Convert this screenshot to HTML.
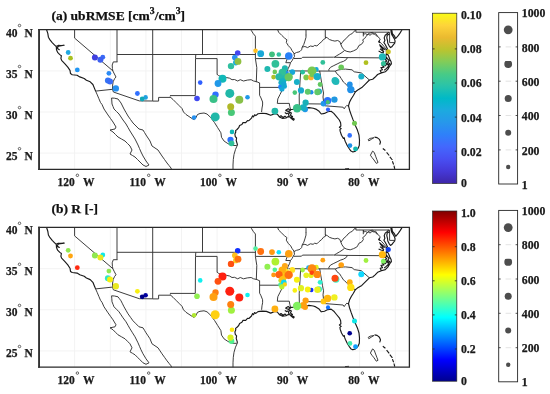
<!DOCTYPE html>
<html><head><meta charset="utf-8"><title>Figure</title>
<style>
html,body{margin:0;padding:0;background:#fff;}
svg{display:block}
.t{font-family:"Liberation Serif",serif;font-weight:bold;font-size:11.5px;fill:#1a1a1a;stroke:#1a1a1a;stroke-width:0.25px}
.dg{font-family:"Liberation Serif",serif;font-size:7px;font-weight:normal;fill:#1a1a1a}
.t2{font-size:11.8px}
.rg{fill:none;stroke:#1a1a1a;stroke-width:0.65}
.ti{font-family:"Liberation Serif",serif;font-weight:bold;font-size:13.5px;fill:#111;stroke:#111;stroke-width:0.25px}
.su{font-size:9.8px}
</style></head><body>
<svg width="550" height="394" viewBox="0 0 550 394">
<defs>
<linearGradient id="grad0" x1="0" y1="1" x2="0" y2="0"><stop offset="0.0000" stop-color="#3e26a8"/><stop offset="0.0714" stop-color="#4538d7"/><stop offset="0.1429" stop-color="#484ff2"/><stop offset="0.2143" stop-color="#4367fd"/><stop offset="0.2857" stop-color="#2f80fa"/><stop offset="0.3571" stop-color="#2797eb"/><stop offset="0.4286" stop-color="#1caadf"/><stop offset="0.5000" stop-color="#00b9c7"/><stop offset="0.5714" stop-color="#29c3aa"/><stop offset="0.6429" stop-color="#48cb86"/><stop offset="0.7143" stop-color="#81cc59"/><stop offset="0.7857" stop-color="#bbc42f"/><stop offset="0.8571" stop-color="#eaba30"/><stop offset="0.9286" stop-color="#fed43a"/><stop offset="1.0000" stop-color="#f9fb15"/></linearGradient>
<linearGradient id="grad1" x1="0" y1="1" x2="0" y2="0"><stop offset="0.0000" stop-color="#00008f"/><stop offset="0.1250" stop-color="#0000ff"/><stop offset="0.3750" stop-color="#00ffff"/><stop offset="0.6250" stop-color="#ffff00"/><stop offset="0.8750" stop-color="#ff0000"/><stop offset="1.0000" stop-color="#800000"/></linearGradient>
</defs>
<rect width="550" height="394" fill="#fff"/>
<text x="51.5" y="19.8" class="ti">(a) ubRMSE [cm<tspan class="su" dy="-5.6">3</tspan><tspan dy="5.6">/cm</tspan><tspan class="su" dy="-5.6">3</tspan><tspan dy="5.6">]</tspan></text>
<text x="51.5" y="213" class="ti">(b) R [-]</text>
<g transform="translate(0,0.0)">
<clipPath id="clip0"><rect x="38.5" y="29.8" width="371.0" height="139.7"/></clipPath>
<path d="M74.6 29.8 V169.5 M110.3 29.8 V169.5 M145.9 29.8 V169.5 M181.5 29.8 V169.5 M217.1 29.8 V169.5 M252.8 29.8 V169.5 M288.4 29.8 V169.5 M324.0 29.8 V169.5 M359.6 29.8 V169.5 M395.3 29.8 V169.5 M38.5 153.1 H409.5 M38.5 112.0 H409.5 M38.5 70.9 H409.5" stroke="#f2f2f2" stroke-width="0.9" fill="none"/>
<g clip-path="url(#clip0)">
<path d="M74.6 28.2 L74.6 38.1 L112.9 70.9 M117.0 28.2 L117.0 61.9 M117.0 54.5 L255.5 54.5 M152.7 28.2 L152.7 101.1 M152.7 101.1 L158.6 101.1 L158.6 97.4 L170.6 97.4 M170.0 95.6 L195.3 95.6 L195.5 58.6 L195.8 54.5 M195.8 58.6 L217.1 58.6 L217.1 74.5 M202.5 28.2 L202.5 54.5 M259.6 82.8 L259.6 95.6 M259.6 87.4 L280.1 87.4 M255.5 58.6 L287.3 58.6 L285.8 62.7 L290.5 62.7 M306.0 28.2 L306.0 35.2 M325.3 28.2 L325.3 37.3 M355.9 28.2 L355.9 32.2 L389.6 32.2 L389.6 42.6 L394.9 42.6 M363.3 32.2 L363.3 36.4 M117.5 61.9 L113.3 61.9 L112.2 65.0 L112.4 68.5 L112.9 71.0 L114.4 74.0 L116.0 77.0 L114.7 78.5 L113.1 81.8 L112.5 86.2 L112.5 89.3 M95.6 91.1 L112.5 89.3 L113.4 92.0 L139.3 100.9 L152.6 101.0 M169.8 96.6 L173.0 99.5 L176.0 102.5 L179.0 105.5 L182.0 108.5 L183.5 112.0 L186.0 114.5 L189.0 116.5 L192.0 118.5 L194.2 119.6 L196.0 117.5 L197.5 114.5 L200.0 113.5 L204.0 113.0 L207.0 114.0 L210.7 117.5 L214.5 122.6 L217.7 127.7 L220.9 132.8 L221.5 137.3 L224.1 141.1 L227.9 143.6 L231.7 145.5 L236.2 145.5 L237.5 144.9 M217.1 74.3 L218.6 75.6 L221.8 76.9 L226.3 77.5 L229.5 78.2 L232.0 79.7 L234.5 79.5 L237.7 81.0 L240.3 79.7 L243.5 81.0 L247.3 80.1 L251.1 79.7 L253.6 81.0 L256.3 81.6 L258.0 82.2 L259.8 83.3 M250.6 29.5 L251.3 30.5 L253.2 33.5 L255.4 36.2 L255.4 58.6 L256.8 67.7 L256.3 82.2 M259.8 95.6 L261.0 98.0 L262.6 102.0 L262.6 105.0 L262.0 108.0 L261.6 112.0 M277.4 29.0 L278.6 32.2 L281.8 35.4 L284.4 37.9 L286.9 39.8 L286.3 42.4 L288.2 45.5 L290.7 48.1 L292.0 50.6 L293.9 53.2 L294.5 56.4 L293.3 58.3 L292.0 60.8 L290.5 62.7 L289.5 65.9 L288.2 68.5 L286.9 71.6 L285.5 75.0 L283.5 79.0 L282.0 83.0 L281.5 87.0 L282.2 90.2 L280.0 94.5 L277.8 98.9 L277.3 103.4 L289.3 103.4 L289.8 106.5 L290.6 109.8 M293.9 53.8 L296.5 52.5 L299.0 51.9 L300.0 51.4 L301.6 49.8 L302.2 47.1 L304.9 46.5 L307.6 47.6 L310.4 46.0 L313.1 46.5 L314.7 45.4 L316.9 46.0 L319.1 43.8 L321.8 41.6 L323.4 39.5 L325.5 38.4 L325.5 37.0 L327.3 37.8 L329.4 39.5 L332.2 40.5 L334.9 41.1 L337.6 40.5 L339.8 41.6 L340.9 44.4 L342.5 42.2 L344.2 40.0 L346.3 38.4 L348.0 36.2 L350.2 34.5 L352.3 33.5 L354.0 31.3 L355.4 30.5 L355.9 29.0 M306.0 34.8 L306.0 37.3 L304.9 41.1 L303.8 44.4 L302.2 47.1 M293.6 58.5 L301.5 58.4 L302.5 57.3 L333.5 57.2 L345.0 57.6 L385.0 57.9 M288.5 70.9 L335.3 71.1 M335.3 71.1 L338.0 70.0 L343.4 69.2 L345.5 69.1 L352.0 69.8 L354.2 71.8 L361.3 72.9 L364.0 75.3 L369.4 80.0 M301.2 70.9 L300.6 72.0 L299.2 96.0 L299.4 110.0 M319.7 70.9 L322.5 88.0 L323.5 93.0 L323.0 97.0 L323.5 101.0 L324.2 103.8 M305.5 103.8 L305.8 107.0 L306.5 110.0 M305.5 103.8 L322.9 104.0 L325.1 105.8 L343.1 107.2 L344.2 108.8 L345.8 106.4 L346.9 105.3 L348.5 106.4 M335.3 71.1 L336.9 73.8 L339.6 76.0 L341.3 78.7 L343.4 82.0 L344.4 82.7 L347.6 86.0 L350.9 89.3 L355.3 92.0 M347.4 57.7 L346.3 59.6 L343.6 61.3 L340.3 62.4 L337.1 64.0 L333.8 65.6 L330.5 67.3 L328.9 69.4 L328.9 70.9 M334.4 57.2 L336.5 55.8 L339.3 54.2 L342.0 52.5 L344.7 50.4 L343.6 49.3 L342.0 47.1 L340.9 44.4 M344.7 50.4 L346.9 51.4 L350.2 52.0 L353.4 50.9 L356.7 49.3 L357.6 48.1 L358.9 45.5 L361.5 44.3 L363.4 41.7 L362.7 39.8 L364.6 38.5 L366.0 36.6 L368.0 33.8 L370.0 35.3 L372.0 33.6 L374.0 34.2 L375.5 33.3 L377.7 36.5 M363.3 32.2 L363.6 34.2 L365.5 33.7 L367.5 34.7 L369.6 33.2 L372.2 32.3 L374.3 33.7 L376.3 35.8 L377.7 36.5 L380.3 39.0 L378.9 41.3 L381.7 43.7 L384.1 46.5 L386.0 49.0 L387.0 50.5 M368.2 139.6 L370.1 138.4 L373.9 137.7 L371.4 139.3 L368.8 140.9 L368.2 139.6 M372.6 151.1 L374.2 152.4 L375.6 156.2 L376.8 159.4 L378.0 162.5 L376.3 163.4 L374.0 160.0 L372.0 157.5 L370.4 155.2 L372.6 151.1 M345.0 168.8 L349.0 168.5 M95.6 91.1 L97.3 94.9 L98.9 98.7 L100.5 102.5 L102.0 104.5 L104.0 109.0 L106.0 112.0 L108.0 115.0 L110.5 118.5 L113.0 122.0 L116.0 127.0 L115.0 129.0 L110.0 130.0 L113.0 132.0 L115.5 134.5 L118.0 137.0 L121.5 139.0 L125.0 141.0 L127.5 143.5 L130.0 146.0 L132.0 150.0 L130.0 154.0 L132.5 155.5 L135.0 157.0 L137.5 159.5 L140.0 162.0 L143.0 165.0 L146.0 166.5 L149.0 165.0 M111.6 98.0 L111.8 101.0 L112.0 104.0 L113.0 106.5 L114.0 109.0 L116.5 111.5 L119.0 114.0 L121.0 117.0 L123.0 120.0 L126.0 124.0 L128.0 127.5 L130.0 131.0 L132.5 135.0 L135.0 139.0 L138.0 145.0 L139.5 148.5 L141.0 152.0 L143.0 156.0 L146.0 161.0 L149.0 165.0 M111.6 98.0 L114.5 98.2 L118.0 99.0 L119.5 101.0 L121.0 103.0 L122.5 106.0 L124.0 109.0 L126.0 112.5 L128.0 116.0 L130.5 119.5 L133.0 123.0 L136.0 126.0 L139.0 129.0 L143.0 130.0 L144.5 132.5 L146.0 135.0 L148.0 138.0 L150.0 141.0 L152.0 146.0 L155.0 148.0 L158.0 150.0 L160.0 153.0 L162.0 156.0 L164.5 159.5 L167.0 163.0 L169.0 165.5 L171.0 168.0 L172.0 170.8 M233.0 171.0 L233.0 165.0 L233.3 159.5 L234.0 154.5 L235.5 149.4 L237.5 144.9" stroke="#333" stroke-width="0.95" fill="none" stroke-linejoin="round"/>
<path d="M46.5 29.5 L47.8 33.4 L48.4 37.2 L50.0 39.9 L52.2 42.6 L54.4 44.8 L56.0 46.4 L58.2 45.4 L61.0 45.6 L64.2 45.3 L58.5 46.2 L57.1 48.1 L59.3 49.7 L57.3 48.6 L56.3 47.0 L56.5 49.7 L57.6 52.4 L59.8 54.6 L61.4 55.7 L60.9 58.4 L61.6 60.3 L64.5 63.3 L67.8 67.1 L70.0 70.4 L70.5 73.6 L72.2 74.7 L77.1 75.3 L79.8 76.9 L84.2 78.5 L86.4 80.2 L90.2 81.8 L92.9 84.5 L94.5 88.4 L95.6 91.1 M237.5 144.9 L236.2 140.5 L236.6 138.0 L235.3 136.6 L234.9 134.1 L235.8 132.0 L235.6 130.6 L237.0 129.5 L238.7 127.7 L239.6 125.6 L241.9 124.5 L243.0 122.6 L245.7 122.6 L247.5 120.6 L248.9 120.7 L251.5 118.2 L252.6 115.8 L253.6 116.8 L254.6 114.8 L255.8 115.6 L258.0 113.8 L262.0 113.3 L266.4 113.6 L270.7 115.3 L274.9 113.6 L277.3 114.2 L279.4 116.9 L282.7 118.5 L286.0 118.0 L288.2 116.6 L290.9 117.2 L294.2 119.1 L293.6 120.2 L291.4 118.5 L289.3 116.6 L288.5 114.5 L289.8 112.5 L288.0 111.4 M285.4 110.4 L288.2 108.7 L290.4 110.4 L288.2 111.4 L285.4 110.4 M289.8 109.8 L293.6 109.3 L296.9 108.7 L300.0 108.9 L304.0 108.6 L308.9 107.6 L313.3 108.2 L315.8 109.1 L319.1 111.3 L321.3 114.0 L324.5 113.4 L327.8 111.8 L331.1 111.3 L333.8 113.4 L336.5 116.7 L339.3 120.0 L340.6 122.7 L340.9 126.0 L339.4 127.2 L341.2 128.6 L339.9 129.6 L340.2 131.4 L341.5 135.2 L343.4 138.4 L344.3 137.8 L344.6 139.6 L345.3 141.5 L347.2 145.4 L349.1 148.5 L351.0 151.1 L352.9 152.0 L355.5 151.1 L358.0 148.5 L359.3 145.4 L359.5 140.3 L359.0 135.2 L357.4 130.1 L355.1 124.9 L352.9 119.4 L351.3 115.1 L349.6 110.2 L348.5 105.8 L349.6 102.0 L351.3 98.7 L353.4 95.5 L355.3 92.0 L357.4 90.3 L361.8 87.6 L365.6 83.8 L369.4 80.0 L372.7 79.2 L374.9 77.3 L377.6 74.5 L381.4 72.9 L385.3 71.8 L388.0 69.1 L389.8 65.8 L391.4 63.8 L391.1 61.8 L389.8 59.2 L388.5 55.9 L386.5 52.6 M381.4 72.9 L380.2 70.5 L382.5 69.8 L381.0 67.6 L384.0 67.2 L382.2 65.5 L385.6 65.8 L386.8 63.2 L384.5 62.4 L386.8 61.0 L385.0 59.3 L387.2 58.4 L385.8 56.5 L386.5 52.6 M386.8 63.2 L388.6 64.6 L388.0 67.0 L386.2 68.6 L384.2 70.2 M383.0 59.8 L385.0 59.3 M385.8 57.2 L389.1 60.5 L387.8 62.4 L389.8 63.8 L388.5 65.1 L386.5 63.8 M388.5 32.0 L387.8 33.3 L385.2 35.3 L384.2 37.9 L384.9 40.5 L383.9 42.5 L385.5 45.0 L386.5 47.0 L387.5 49.0 L386.2 49.8 L386.5 52.6 M379.3 44.5 L382.0 47.0 L385.2 49.8 M378.6 51.1 L381.0 52.2 L383.9 53.0 M379.9 45.7 L383.5 50.3 M380.0 48.8 L384.0 52.0 M379.9 40.5 L378.6 41.8 L379.9 42.8 M389.5 33.9 L387.2 35.3 L386.8 37.9 L387.5 40.5 L387.8 43.2 L389.1 45.8 L390.5 47.6 L391.8 46.8 L393.1 45.1 L394.7 43.2 L395.1 41.2 L394.4 38.9 L393.1 36.6 L391.8 34.6 L391.1 32.0 L390.9 30.0 M391.8 30.0 L392.4 33.6 L394.4 35.9 L395.7 38.5 L398.4 35.3 L400.3 32.6 L401.7 30.3 L402.0 29.5 M288.2 111.4 L291.4 113.1 L290.4 115.3 L292.5 116.6 L290.9 117.2 M279.4 116.9 L281.0 115.7 L283.0 117.4 L285.0 116.2 L286.5 117.6 M284.8 112.6 L286.6 113.8 L288.4 113.0 M382.8 148.5 L385.4 150.5 M386.6 152.4 L389.2 155.5 M389.8 156.8 L392.4 160.0 M392.4 161.3 L393.6 164.5 M394.0 165.7 L394.7 168.9 M374.5 137.1 L377.1 137.6 L379.4 139.4 L380.5 142.0 L379.7 144.6" stroke="#1a1a1a" stroke-width="1.15" fill="none" stroke-linejoin="round"/>
<circle cx="68.2" cy="52.5" r="2.4" fill="#1fa8e0"/>
<circle cx="70.5" cy="58.2" r="2.4" fill="#a8c020"/>
<circle cx="77.3" cy="69.9" r="2.4" fill="#2196f3"/>
<circle cx="94.9" cy="57.6" r="3.0" fill="#4040e0"/>
<circle cx="102.8" cy="57.2" r="2.4" fill="#3a6af5"/>
<circle cx="100.4" cy="59.7" r="3.0" fill="#3d60f0"/>
<circle cx="108.9" cy="73.3" r="2.4" fill="#2a8af5"/>
<circle cx="107.9" cy="80.5" r="3.0" fill="#3575f5"/>
<circle cx="110.0" cy="81.6" r="3.0" fill="#3a6cf5"/>
<circle cx="115.8" cy="88.4" r="3.2" fill="#2590f0"/>
<circle cx="137.4" cy="93.5" r="2.4" fill="#3070ff"/>
<circle cx="145.6" cy="97.4" r="2.3" fill="#20a0e0"/>
<circle cx="142.2" cy="99.0" r="2.4" fill="#10a8b8"/>
<circle cx="237.7" cy="53.0" r="2.8" fill="#4545f0"/>
<circle cx="234.8" cy="57.6" r="2.8" fill="#2a90f0"/>
<circle cx="235.8" cy="62.6" r="2.8" fill="#20b0e0"/>
<circle cx="238.0" cy="61.4" r="3.4" fill="#90c040"/>
<circle cx="231.0" cy="66.1" r="3.2" fill="#30c0a0"/>
<circle cx="222.5" cy="78.8" r="4.0" fill="#10b8b8"/>
<circle cx="218.0" cy="83.5" r="3.4" fill="#2098e8"/>
<circle cx="200.2" cy="82.6" r="2.3" fill="#3060ff"/>
<circle cx="255.5" cy="50.8" r="2.3" fill="#ffc020"/>
<circle cx="260.7" cy="53.7" r="3.4" fill="#18a8d8"/>
<circle cx="215.5" cy="94.6" r="3.2" fill="#3070ff"/>
<circle cx="213.5" cy="99.1" r="4.0" fill="#38c088"/>
<circle cx="229.8" cy="93.4" r="4.5" fill="#20b8a8"/>
<circle cx="197.0" cy="98.5" r="2.8" fill="#4048f0"/>
<circle cx="239.3" cy="99.7" r="4.0" fill="#88c048"/>
<circle cx="247.5" cy="97.2" r="2.3" fill="#2098e8"/>
<circle cx="231.4" cy="112.5" r="3.5" fill="#48c878"/>
<circle cx="230.7" cy="106.7" r="3.5" fill="#b0b828"/>
<circle cx="215.2" cy="116.9" r="4.5" fill="#20b8a8"/>
<circle cx="194.1" cy="117.5" r="2.3" fill="#2590f0"/>
<circle cx="232.0" cy="131.9" r="2.3" fill="#10b8b8"/>
<circle cx="230.5" cy="139.8" r="3.1" fill="#2a70ff"/>
<circle cx="231.5" cy="143.3" r="2.9" fill="#30c098"/>
<circle cx="272.0" cy="54.3" r="2.9" fill="#40c080"/>
<circle cx="278.8" cy="54.5" r="2.3" fill="#30c0a0"/>
<circle cx="288.8" cy="56.0" r="3.8" fill="#2880f8"/>
<circle cx="275.4" cy="63.8" r="3.9" fill="#30c098"/>
<circle cx="267.4" cy="69.0" r="3.0" fill="#20b8b0"/>
<circle cx="274.8" cy="71.9" r="2.3" fill="#70c858"/>
<circle cx="273.6" cy="77.1" r="2.4" fill="#b0c028"/>
<circle cx="286.0" cy="73.4" r="2.8" fill="#2090e8"/>
<circle cx="284.9" cy="68.2" r="3.0" fill="#20b8b0"/>
<circle cx="282.3" cy="72.5" r="3.7" fill="#30c098"/>
<circle cx="284.4" cy="78.5" r="3.2" fill="#20b8b0"/>
<circle cx="279.0" cy="76.8" r="3.6" fill="#28b8a8"/>
<circle cx="292.3" cy="72.1" r="2.9" fill="#18a8d8"/>
<circle cx="280.4" cy="86.9" r="2.3" fill="#2080ff"/>
<circle cx="280.6" cy="82.8" r="2.3" fill="#14a8cc"/>
<circle cx="282.6" cy="81.8" r="3.5" fill="#14b0c4"/>
<circle cx="283.8" cy="84.6" r="2.8" fill="#14a8d0"/>
<circle cx="284.8" cy="86.6" r="2.2" fill="#14a8d0"/>
<circle cx="281.9" cy="89.0" r="2.6" fill="#14a8d8"/>
<circle cx="288.7" cy="77.1" r="4.2" fill="#68c860"/>
<circle cx="296.9" cy="82.0" r="3.0" fill="#18b0c8"/>
<circle cx="302.6" cy="72.2" r="2.4" fill="#28c0a0"/>
<circle cx="316.3" cy="69.4" r="2.4" fill="#18a8d8"/>
<circle cx="312.0" cy="70.9" r="4.5" fill="#78c850"/>
<circle cx="306.2" cy="77.4" r="2.8" fill="#80c848"/>
<circle cx="311.0" cy="77.4" r="2.8" fill="#ffb030"/>
<circle cx="311.9" cy="75.0" r="2.2" fill="#78c850"/>
<circle cx="317.2" cy="76.6" r="3.7" fill="#18b0c8"/>
<circle cx="320.1" cy="84.5" r="2.4" fill="#60c860"/>
<circle cx="322.8" cy="62.4" r="2.4" fill="#30c098"/>
<circle cx="341.2" cy="67.2" r="2.8" fill="#68c858"/>
<circle cx="335.9" cy="81.4" r="3.5" fill="#20b8b8"/>
<circle cx="335.0" cy="80.5" r="3.5" fill="#20b8b8"/>
<circle cx="301.0" cy="90.4" r="3.1" fill="#18a8d0"/>
<circle cx="294.8" cy="92.6" r="2.3" fill="#48c878"/>
<circle cx="311.3" cy="92.2" r="2.2" fill="#2090e8"/>
<circle cx="307.8" cy="91.7" r="3.0" fill="#60c868"/>
<circle cx="319.0" cy="91.4" r="3.0" fill="#18a8d0"/>
<circle cx="317.5" cy="92.0" r="3.2" fill="#60c868"/>
<circle cx="366.0" cy="62.7" r="2.4" fill="#b0c020"/>
<circle cx="361.3" cy="76.5" r="3.0" fill="#18b0c8"/>
<circle cx="382.4" cy="56.9" r="3.6" fill="#20b8b8"/>
<circle cx="383.4" cy="63.4" r="2.5" fill="#30c098"/>
<circle cx="388.3" cy="51.8" r="2.5" fill="#c8c020"/>
<circle cx="349.8" cy="84.4" r="2.9" fill="#2090e8"/>
<circle cx="350.8" cy="89.6" r="3.7" fill="#2090e8"/>
<circle cx="274.9" cy="111.1" r="3.4" fill="#20b8a8"/>
<circle cx="305.6" cy="102.7" r="3.1" fill="#18b0b8"/>
<circle cx="305.1" cy="109.3" r="2.9" fill="#2098e8"/>
<circle cx="303.2" cy="107.6" r="3.3" fill="#18b0c0"/>
<circle cx="297.1" cy="108.2" r="4.2" fill="#38c088"/>
<circle cx="323.5" cy="103.6" r="2.9" fill="#2098e8"/>
<circle cx="327.6" cy="100.7" r="3.7" fill="#2a70ff"/>
<circle cx="327.8" cy="102.2" r="2.1" fill="#48c070"/>
<circle cx="334.4" cy="99.6" r="3.2" fill="#2098e0"/>
<circle cx="328.0" cy="109.6" r="2.1" fill="#3060ff"/>
<circle cx="354.5" cy="123.3" r="2.5" fill="#70c850"/>
<circle cx="349.7" cy="135.4" r="2.3" fill="#3070ff"/>
<circle cx="350.0" cy="145.6" r="2.3" fill="#2090e8"/>
<circle cx="355.5" cy="148.9" r="2.4" fill="#10b8b0"/>
</g>
<path d="M38.1 29.65 H410.05 M409.4 29.65 V169.35 M410.05 169.35 H38.1" fill="none" stroke="#2a2a2a" stroke-width="1.3"/>
<path d="M39.05 29 V170" fill="none" stroke="#333" stroke-width="1.9"/>
<text x="17.5" y="36.5" class="t" text-anchor="end">40</text><circle cx="19.5" cy="25.5" r="1.25" class="rg"/><text x="24.6" y="36.5" class="t">N</text>
<text x="17.5" y="77.5" class="t" text-anchor="end">35</text><circle cx="19.5" cy="66.5" r="1.25" class="rg"/><text x="24.6" y="77.5" class="t">N</text>
<text x="17.5" y="118.6" class="t" text-anchor="end">30</text><circle cx="19.5" cy="107.6" r="1.25" class="rg"/><text x="24.6" y="118.6" class="t">N</text>
<text x="17.5" y="159.7" class="t" text-anchor="end">25</text><circle cx="19.5" cy="148.7" r="1.25" class="rg"/><text x="24.6" y="159.7" class="t">N</text>
<text x="74.7" y="186.2" class="t" text-anchor="end">120</text><circle cx="77.4" cy="175.3" r="1.25" class="rg"/><text x="83.0" y="186.2" class="t">W</text>
<text x="146.0" y="186.2" class="t" text-anchor="end">110</text><circle cx="148.7" cy="175.3" r="1.25" class="rg"/><text x="154.3" y="186.2" class="t">W</text>
<text x="217.2" y="186.2" class="t" text-anchor="end">100</text><circle cx="219.9" cy="175.3" r="1.25" class="rg"/><text x="225.5" y="186.2" class="t">W</text>
<text x="288.5" y="186.2" class="t" text-anchor="end">90</text><circle cx="291.2" cy="175.3" r="1.25" class="rg"/><text x="296.8" y="186.2" class="t">W</text>
<text x="359.7" y="186.2" class="t" text-anchor="end">80</text><circle cx="362.4" cy="175.3" r="1.25" class="rg"/><text x="368.0" y="186.2" class="t">W</text>
</g>
<g transform="translate(0,197.8)">
<clipPath id="clip1"><rect x="38.5" y="29.8" width="371.0" height="139.7"/></clipPath>
<path d="M74.6 29.8 V169.5 M110.3 29.8 V169.5 M145.9 29.8 V169.5 M181.5 29.8 V169.5 M217.1 29.8 V169.5 M252.8 29.8 V169.5 M288.4 29.8 V169.5 M324.0 29.8 V169.5 M359.6 29.8 V169.5 M395.3 29.8 V169.5 M38.5 153.1 H409.5 M38.5 112.0 H409.5 M38.5 70.9 H409.5" stroke="#f2f2f2" stroke-width="0.9" fill="none"/>
<g clip-path="url(#clip1)">
<path d="M74.6 28.2 L74.6 38.1 L112.9 70.9 M117.0 28.2 L117.0 61.9 M117.0 54.5 L255.5 54.5 M152.7 28.2 L152.7 101.1 M152.7 101.1 L158.6 101.1 L158.6 97.4 L170.6 97.4 M170.0 95.6 L195.3 95.6 L195.5 58.6 L195.8 54.5 M195.8 58.6 L217.1 58.6 L217.1 74.5 M202.5 28.2 L202.5 54.5 M259.6 82.8 L259.6 95.6 M259.6 87.4 L280.1 87.4 M255.5 58.6 L287.3 58.6 L285.8 62.7 L290.5 62.7 M306.0 28.2 L306.0 35.2 M325.3 28.2 L325.3 37.3 M355.9 28.2 L355.9 32.2 L389.6 32.2 L389.6 42.6 L394.9 42.6 M363.3 32.2 L363.3 36.4 M117.5 61.9 L113.3 61.9 L112.2 65.0 L112.4 68.5 L112.9 71.0 L114.4 74.0 L116.0 77.0 L114.7 78.5 L113.1 81.8 L112.5 86.2 L112.5 89.3 M95.6 91.1 L112.5 89.3 L113.4 92.0 L139.3 100.9 L152.6 101.0 M169.8 96.6 L173.0 99.5 L176.0 102.5 L179.0 105.5 L182.0 108.5 L183.5 112.0 L186.0 114.5 L189.0 116.5 L192.0 118.5 L194.2 119.6 L196.0 117.5 L197.5 114.5 L200.0 113.5 L204.0 113.0 L207.0 114.0 L210.7 117.5 L214.5 122.6 L217.7 127.7 L220.9 132.8 L221.5 137.3 L224.1 141.1 L227.9 143.6 L231.7 145.5 L236.2 145.5 L237.5 144.9 M217.1 74.3 L218.6 75.6 L221.8 76.9 L226.3 77.5 L229.5 78.2 L232.0 79.7 L234.5 79.5 L237.7 81.0 L240.3 79.7 L243.5 81.0 L247.3 80.1 L251.1 79.7 L253.6 81.0 L256.3 81.6 L258.0 82.2 L259.8 83.3 M250.6 29.5 L251.3 30.5 L253.2 33.5 L255.4 36.2 L255.4 58.6 L256.8 67.7 L256.3 82.2 M259.8 95.6 L261.0 98.0 L262.6 102.0 L262.6 105.0 L262.0 108.0 L261.6 112.0 M277.4 29.0 L278.6 32.2 L281.8 35.4 L284.4 37.9 L286.9 39.8 L286.3 42.4 L288.2 45.5 L290.7 48.1 L292.0 50.6 L293.9 53.2 L294.5 56.4 L293.3 58.3 L292.0 60.8 L290.5 62.7 L289.5 65.9 L288.2 68.5 L286.9 71.6 L285.5 75.0 L283.5 79.0 L282.0 83.0 L281.5 87.0 L282.2 90.2 L280.0 94.5 L277.8 98.9 L277.3 103.4 L289.3 103.4 L289.8 106.5 L290.6 109.8 M293.9 53.8 L296.5 52.5 L299.0 51.9 L300.0 51.4 L301.6 49.8 L302.2 47.1 L304.9 46.5 L307.6 47.6 L310.4 46.0 L313.1 46.5 L314.7 45.4 L316.9 46.0 L319.1 43.8 L321.8 41.6 L323.4 39.5 L325.5 38.4 L325.5 37.0 L327.3 37.8 L329.4 39.5 L332.2 40.5 L334.9 41.1 L337.6 40.5 L339.8 41.6 L340.9 44.4 L342.5 42.2 L344.2 40.0 L346.3 38.4 L348.0 36.2 L350.2 34.5 L352.3 33.5 L354.0 31.3 L355.4 30.5 L355.9 29.0 M306.0 34.8 L306.0 37.3 L304.9 41.1 L303.8 44.4 L302.2 47.1 M293.6 58.5 L301.5 58.4 L302.5 57.3 L333.5 57.2 L345.0 57.6 L385.0 57.9 M288.5 70.9 L335.3 71.1 M335.3 71.1 L338.0 70.0 L343.4 69.2 L345.5 69.1 L352.0 69.8 L354.2 71.8 L361.3 72.9 L364.0 75.3 L369.4 80.0 M301.2 70.9 L300.6 72.0 L299.2 96.0 L299.4 110.0 M319.7 70.9 L322.5 88.0 L323.5 93.0 L323.0 97.0 L323.5 101.0 L324.2 103.8 M305.5 103.8 L305.8 107.0 L306.5 110.0 M305.5 103.8 L322.9 104.0 L325.1 105.8 L343.1 107.2 L344.2 108.8 L345.8 106.4 L346.9 105.3 L348.5 106.4 M335.3 71.1 L336.9 73.8 L339.6 76.0 L341.3 78.7 L343.4 82.0 L344.4 82.7 L347.6 86.0 L350.9 89.3 L355.3 92.0 M347.4 57.7 L346.3 59.6 L343.6 61.3 L340.3 62.4 L337.1 64.0 L333.8 65.6 L330.5 67.3 L328.9 69.4 L328.9 70.9 M334.4 57.2 L336.5 55.8 L339.3 54.2 L342.0 52.5 L344.7 50.4 L343.6 49.3 L342.0 47.1 L340.9 44.4 M344.7 50.4 L346.9 51.4 L350.2 52.0 L353.4 50.9 L356.7 49.3 L357.6 48.1 L358.9 45.5 L361.5 44.3 L363.4 41.7 L362.7 39.8 L364.6 38.5 L366.0 36.6 L368.0 33.8 L370.0 35.3 L372.0 33.6 L374.0 34.2 L375.5 33.3 L377.7 36.5 M363.3 32.2 L363.6 34.2 L365.5 33.7 L367.5 34.7 L369.6 33.2 L372.2 32.3 L374.3 33.7 L376.3 35.8 L377.7 36.5 L380.3 39.0 L378.9 41.3 L381.7 43.7 L384.1 46.5 L386.0 49.0 L387.0 50.5 M368.2 139.6 L370.1 138.4 L373.9 137.7 L371.4 139.3 L368.8 140.9 L368.2 139.6 M372.6 151.1 L374.2 152.4 L375.6 156.2 L376.8 159.4 L378.0 162.5 L376.3 163.4 L374.0 160.0 L372.0 157.5 L370.4 155.2 L372.6 151.1 M345.0 168.8 L349.0 168.5 M95.6 91.1 L97.3 94.9 L98.9 98.7 L100.5 102.5 L102.0 104.5 L104.0 109.0 L106.0 112.0 L108.0 115.0 L110.5 118.5 L113.0 122.0 L116.0 127.0 L115.0 129.0 L110.0 130.0 L113.0 132.0 L115.5 134.5 L118.0 137.0 L121.5 139.0 L125.0 141.0 L127.5 143.5 L130.0 146.0 L132.0 150.0 L130.0 154.0 L132.5 155.5 L135.0 157.0 L137.5 159.5 L140.0 162.0 L143.0 165.0 L146.0 166.5 L149.0 165.0 M111.6 98.0 L111.8 101.0 L112.0 104.0 L113.0 106.5 L114.0 109.0 L116.5 111.5 L119.0 114.0 L121.0 117.0 L123.0 120.0 L126.0 124.0 L128.0 127.5 L130.0 131.0 L132.5 135.0 L135.0 139.0 L138.0 145.0 L139.5 148.5 L141.0 152.0 L143.0 156.0 L146.0 161.0 L149.0 165.0 M111.6 98.0 L114.5 98.2 L118.0 99.0 L119.5 101.0 L121.0 103.0 L122.5 106.0 L124.0 109.0 L126.0 112.5 L128.0 116.0 L130.5 119.5 L133.0 123.0 L136.0 126.0 L139.0 129.0 L143.0 130.0 L144.5 132.5 L146.0 135.0 L148.0 138.0 L150.0 141.0 L152.0 146.0 L155.0 148.0 L158.0 150.0 L160.0 153.0 L162.0 156.0 L164.5 159.5 L167.0 163.0 L169.0 165.5 L171.0 168.0 L172.0 170.8 M233.0 171.0 L233.0 165.0 L233.3 159.5 L234.0 154.5 L235.5 149.4 L237.5 144.9" stroke="#333" stroke-width="0.95" fill="none" stroke-linejoin="round"/>
<path d="M46.5 29.5 L47.8 33.4 L48.4 37.2 L50.0 39.9 L52.2 42.6 L54.4 44.8 L56.0 46.4 L58.2 45.4 L61.0 45.6 L64.2 45.3 L58.5 46.2 L57.1 48.1 L59.3 49.7 L57.3 48.6 L56.3 47.0 L56.5 49.7 L57.6 52.4 L59.8 54.6 L61.4 55.7 L60.9 58.4 L61.6 60.3 L64.5 63.3 L67.8 67.1 L70.0 70.4 L70.5 73.6 L72.2 74.7 L77.1 75.3 L79.8 76.9 L84.2 78.5 L86.4 80.2 L90.2 81.8 L92.9 84.5 L94.5 88.4 L95.6 91.1 M237.5 144.9 L236.2 140.5 L236.6 138.0 L235.3 136.6 L234.9 134.1 L235.8 132.0 L235.6 130.6 L237.0 129.5 L238.7 127.7 L239.6 125.6 L241.9 124.5 L243.0 122.6 L245.7 122.6 L247.5 120.6 L248.9 120.7 L251.5 118.2 L252.6 115.8 L253.6 116.8 L254.6 114.8 L255.8 115.6 L258.0 113.8 L262.0 113.3 L266.4 113.6 L270.7 115.3 L274.9 113.6 L277.3 114.2 L279.4 116.9 L282.7 118.5 L286.0 118.0 L288.2 116.6 L290.9 117.2 L294.2 119.1 L293.6 120.2 L291.4 118.5 L289.3 116.6 L288.5 114.5 L289.8 112.5 L288.0 111.4 M285.4 110.4 L288.2 108.7 L290.4 110.4 L288.2 111.4 L285.4 110.4 M289.8 109.8 L293.6 109.3 L296.9 108.7 L300.0 108.9 L304.0 108.6 L308.9 107.6 L313.3 108.2 L315.8 109.1 L319.1 111.3 L321.3 114.0 L324.5 113.4 L327.8 111.8 L331.1 111.3 L333.8 113.4 L336.5 116.7 L339.3 120.0 L340.6 122.7 L340.9 126.0 L339.4 127.2 L341.2 128.6 L339.9 129.6 L340.2 131.4 L341.5 135.2 L343.4 138.4 L344.3 137.8 L344.6 139.6 L345.3 141.5 L347.2 145.4 L349.1 148.5 L351.0 151.1 L352.9 152.0 L355.5 151.1 L358.0 148.5 L359.3 145.4 L359.5 140.3 L359.0 135.2 L357.4 130.1 L355.1 124.9 L352.9 119.4 L351.3 115.1 L349.6 110.2 L348.5 105.8 L349.6 102.0 L351.3 98.7 L353.4 95.5 L355.3 92.0 L357.4 90.3 L361.8 87.6 L365.6 83.8 L369.4 80.0 L372.7 79.2 L374.9 77.3 L377.6 74.5 L381.4 72.9 L385.3 71.8 L388.0 69.1 L389.8 65.8 L391.4 63.8 L391.1 61.8 L389.8 59.2 L388.5 55.9 L386.5 52.6 M381.4 72.9 L380.2 70.5 L382.5 69.8 L381.0 67.6 L384.0 67.2 L382.2 65.5 L385.6 65.8 L386.8 63.2 L384.5 62.4 L386.8 61.0 L385.0 59.3 L387.2 58.4 L385.8 56.5 L386.5 52.6 M386.8 63.2 L388.6 64.6 L388.0 67.0 L386.2 68.6 L384.2 70.2 M383.0 59.8 L385.0 59.3 M385.8 57.2 L389.1 60.5 L387.8 62.4 L389.8 63.8 L388.5 65.1 L386.5 63.8 M388.5 32.0 L387.8 33.3 L385.2 35.3 L384.2 37.9 L384.9 40.5 L383.9 42.5 L385.5 45.0 L386.5 47.0 L387.5 49.0 L386.2 49.8 L386.5 52.6 M379.3 44.5 L382.0 47.0 L385.2 49.8 M378.6 51.1 L381.0 52.2 L383.9 53.0 M379.9 45.7 L383.5 50.3 M380.0 48.8 L384.0 52.0 M379.9 40.5 L378.6 41.8 L379.9 42.8 M389.5 33.9 L387.2 35.3 L386.8 37.9 L387.5 40.5 L387.8 43.2 L389.1 45.8 L390.5 47.6 L391.8 46.8 L393.1 45.1 L394.7 43.2 L395.1 41.2 L394.4 38.9 L393.1 36.6 L391.8 34.6 L391.1 32.0 L390.9 30.0 M391.8 30.0 L392.4 33.6 L394.4 35.9 L395.7 38.5 L398.4 35.3 L400.3 32.6 L401.7 30.3 L402.0 29.5 M288.2 111.4 L291.4 113.1 L290.4 115.3 L292.5 116.6 L290.9 117.2 M279.4 116.9 L281.0 115.7 L283.0 117.4 L285.0 116.2 L286.5 117.6 M284.8 112.6 L286.6 113.8 L288.4 113.0 M382.8 148.5 L385.4 150.5 M386.6 152.4 L389.2 155.5 M389.8 156.8 L392.4 160.0 M392.4 161.3 L393.6 164.5 M394.0 165.7 L394.7 168.9 M374.5 137.1 L377.1 137.6 L379.4 139.4 L380.5 142.0 L379.7 144.6" stroke="#1a1a1a" stroke-width="1.15" fill="none" stroke-linejoin="round"/>
<circle cx="68.2" cy="52.5" r="2.4" fill="#90e850"/>
<circle cx="70.5" cy="58.2" r="2.4" fill="#ffa510"/>
<circle cx="77.3" cy="69.9" r="2.4" fill="#ff2a10"/>
<circle cx="94.9" cy="57.6" r="3.0" fill="#90e850"/>
<circle cx="102.8" cy="57.2" r="2.4" fill="#10e8e8"/>
<circle cx="100.4" cy="59.7" r="3.0" fill="#e8e820"/>
<circle cx="108.9" cy="73.3" r="2.4" fill="#90e850"/>
<circle cx="107.9" cy="80.5" r="3.0" fill="#30e8c8"/>
<circle cx="110.0" cy="81.6" r="3.0" fill="#f5f010"/>
<circle cx="115.8" cy="88.4" r="3.2" fill="#e8e820"/>
<circle cx="137.4" cy="93.5" r="2.4" fill="#f8f010"/>
<circle cx="145.6" cy="97.4" r="2.3" fill="#0000a0"/>
<circle cx="142.2" cy="99.0" r="2.4" fill="#000088"/>
<circle cx="237.7" cy="53.0" r="2.8" fill="#1030ff"/>
<circle cx="234.8" cy="57.6" r="2.8" fill="#ffc020"/>
<circle cx="235.8" cy="62.6" r="2.8" fill="#ffd020"/>
<circle cx="238.0" cy="61.4" r="3.4" fill="#ff7010"/>
<circle cx="231.0" cy="66.1" r="3.2" fill="#ff5010"/>
<circle cx="222.5" cy="78.8" r="4.0" fill="#ff2010"/>
<circle cx="218.0" cy="83.5" r="3.4" fill="#ff5010"/>
<circle cx="200.2" cy="82.6" r="2.3" fill="#10f0f0"/>
<circle cx="255.5" cy="50.8" r="2.3" fill="#50f0a0"/>
<circle cx="260.7" cy="53.7" r="3.4" fill="#ff7010"/>
<circle cx="215.5" cy="94.6" r="3.2" fill="#ff8010"/>
<circle cx="213.5" cy="99.1" r="4.0" fill="#ffa010"/>
<circle cx="229.8" cy="93.4" r="4.5" fill="#ff2010"/>
<circle cx="197.0" cy="98.5" r="2.8" fill="#90f050"/>
<circle cx="239.3" cy="99.7" r="4.0" fill="#ff2010"/>
<circle cx="247.5" cy="97.2" r="2.3" fill="#10f0f0"/>
<circle cx="231.4" cy="112.5" r="3.5" fill="#a0f040"/>
<circle cx="230.7" cy="106.7" r="3.5" fill="#ff8010"/>
<circle cx="215.2" cy="116.9" r="4.5" fill="#ffd010"/>
<circle cx="194.1" cy="117.5" r="2.3" fill="#b0e830"/>
<circle cx="232.0" cy="131.9" r="2.3" fill="#ffe810"/>
<circle cx="231.5" cy="143.3" r="2.9" fill="#50f090"/>
<circle cx="230.5" cy="139.8" r="3.1" fill="#d8f020"/>
<circle cx="272.0" cy="54.3" r="2.9" fill="#ff9810"/>
<circle cx="278.8" cy="54.5" r="2.3" fill="#10e0ff"/>
<circle cx="288.8" cy="56.0" r="3.8" fill="#ffa010"/>
<circle cx="275.4" cy="63.8" r="3.9" fill="#b0f030"/>
<circle cx="267.4" cy="69.0" r="3.0" fill="#90f050"/>
<circle cx="274.8" cy="71.9" r="2.3" fill="#50f090"/>
<circle cx="273.6" cy="77.1" r="2.4" fill="#ff9810"/>
<circle cx="286.0" cy="73.4" r="2.8" fill="#ffe020"/>
<circle cx="284.9" cy="68.2" r="3.0" fill="#ffa818"/>
<circle cx="282.3" cy="72.5" r="3.7" fill="#ffb010"/>
<circle cx="284.4" cy="78.5" r="3.2" fill="#ffc010"/>
<circle cx="279.0" cy="76.8" r="3.6" fill="#ff6010"/>
<circle cx="292.3" cy="72.1" r="2.9" fill="#ffe020"/>
<circle cx="280.4" cy="86.9" r="2.3" fill="#50f0a0"/>
<circle cx="280.6" cy="82.8" r="2.3" fill="#a0f040"/>
<circle cx="282.6" cy="81.8" r="3.5" fill="#ffc010"/>
<circle cx="283.8" cy="84.6" r="2.8" fill="#10d8f0"/>
<circle cx="284.8" cy="86.6" r="2.2" fill="#ffd010"/>
<circle cx="281.9" cy="89.0" r="2.6" fill="#b8f030"/>
<circle cx="288.7" cy="77.1" r="4.2" fill="#ff7010"/>
<circle cx="296.9" cy="82.0" r="3.0" fill="#f8f010"/>
<circle cx="302.6" cy="72.2" r="2.4" fill="#a0f040"/>
<circle cx="308.6" cy="69.8" r="2.4" fill="#10b0ff"/>
<circle cx="316.3" cy="69.4" r="2.4" fill="#e0f020"/>
<circle cx="312.0" cy="70.9" r="4.5" fill="#ff8810"/>
<circle cx="306.2" cy="77.4" r="2.8" fill="#e8f020"/>
<circle cx="311.0" cy="77.4" r="2.8" fill="#e8f020"/>
<circle cx="311.9" cy="75.0" r="2.2" fill="#ff4010"/>
<circle cx="317.2" cy="76.6" r="3.7" fill="#ff8810"/>
<circle cx="320.1" cy="84.5" r="2.4" fill="#30f0d0"/>
<circle cx="322.8" cy="62.4" r="2.4" fill="#ffa010"/>
<circle cx="341.2" cy="67.2" r="2.8" fill="#ffa010"/>
<circle cx="335.9" cy="81.4" r="3.5" fill="#40f0c0"/>
<circle cx="335.0" cy="80.5" r="3.5" fill="#ff4810"/>
<circle cx="301.0" cy="90.4" r="3.1" fill="#e0f020"/>
<circle cx="294.8" cy="92.6" r="2.3" fill="#f8f010"/>
<circle cx="311.3" cy="92.2" r="2.2" fill="#1030ff"/>
<circle cx="307.8" cy="91.7" r="3.0" fill="#f8f010"/>
<circle cx="319.0" cy="91.4" r="3.0" fill="#30f0d0"/>
<circle cx="317.5" cy="92.0" r="3.2" fill="#e8f020"/>
<circle cx="366.0" cy="62.7" r="2.4" fill="#a0f040"/>
<circle cx="361.3" cy="76.5" r="3.0" fill="#10d8ff"/>
<circle cx="382.4" cy="56.9" r="3.6" fill="#ffb810"/>
<circle cx="383.4" cy="63.4" r="2.5" fill="#80f060"/>
<circle cx="388.3" cy="51.8" r="2.5" fill="#1040f0"/>
<circle cx="349.8" cy="84.4" r="2.9" fill="#ffb010"/>
<circle cx="350.8" cy="89.6" r="3.7" fill="#ffe010"/>
<circle cx="274.9" cy="111.1" r="3.4" fill="#ffb010"/>
<circle cx="305.6" cy="102.7" r="3.1" fill="#ffa010"/>
<circle cx="305.1" cy="109.3" r="2.9" fill="#ffa010"/>
<circle cx="303.2" cy="107.6" r="3.3" fill="#ffa010"/>
<circle cx="297.1" cy="108.2" r="4.2" fill="#80f060"/>
<circle cx="323.5" cy="103.6" r="2.9" fill="#ffc810"/>
<circle cx="327.6" cy="100.7" r="3.7" fill="#ffb810"/>
<circle cx="327.8" cy="102.2" r="2.1" fill="#ffb810"/>
<circle cx="334.4" cy="99.6" r="3.2" fill="#f0f020"/>
<circle cx="328.0" cy="109.6" r="2.1" fill="#1070ff"/>
<circle cx="354.5" cy="123.3" r="2.5" fill="#10e8e8"/>
<circle cx="349.7" cy="135.4" r="2.3" fill="#000090"/>
<circle cx="350.0" cy="145.6" r="2.3" fill="#40f0b0"/>
<circle cx="355.5" cy="148.9" r="2.4" fill="#10a0ff"/>
</g>
<path d="M38.1 29.65 H410.05 M409.4 29.65 V169.35 M410.05 169.35 H38.1" fill="none" stroke="#2a2a2a" stroke-width="1.3"/>
<path d="M39.05 29 V170" fill="none" stroke="#333" stroke-width="1.9"/>
<text x="17.5" y="36.5" class="t" text-anchor="end">40</text><circle cx="19.5" cy="25.5" r="1.25" class="rg"/><text x="24.6" y="36.5" class="t">N</text>
<text x="17.5" y="77.5" class="t" text-anchor="end">35</text><circle cx="19.5" cy="66.5" r="1.25" class="rg"/><text x="24.6" y="77.5" class="t">N</text>
<text x="17.5" y="118.6" class="t" text-anchor="end">30</text><circle cx="19.5" cy="107.6" r="1.25" class="rg"/><text x="24.6" y="118.6" class="t">N</text>
<text x="17.5" y="159.7" class="t" text-anchor="end">25</text><circle cx="19.5" cy="148.7" r="1.25" class="rg"/><text x="24.6" y="159.7" class="t">N</text>
<text x="74.7" y="186.2" class="t" text-anchor="end">120</text><circle cx="77.4" cy="175.3" r="1.25" class="rg"/><text x="83.0" y="186.2" class="t">W</text>
<text x="146.0" y="186.2" class="t" text-anchor="end">110</text><circle cx="148.7" cy="175.3" r="1.25" class="rg"/><text x="154.3" y="186.2" class="t">W</text>
<text x="217.2" y="186.2" class="t" text-anchor="end">100</text><circle cx="219.9" cy="175.3" r="1.25" class="rg"/><text x="225.5" y="186.2" class="t">W</text>
<text x="288.5" y="186.2" class="t" text-anchor="end">90</text><circle cx="291.2" cy="175.3" r="1.25" class="rg"/><text x="296.8" y="186.2" class="t">W</text>
<text x="359.7" y="186.2" class="t" text-anchor="end">80</text><circle cx="362.4" cy="175.3" r="1.25" class="rg"/><text x="368.0" y="186.2" class="t">W</text>
</g>
<g transform="translate(0,0.0)">
<rect x="432.6" y="13.2" width="24.2" height="170.2" fill="url(#grad0)" stroke="#262626" stroke-width="0.7"/>
<text x="460.9" y="186.9" class="t t2">0</text>
<path d="M432.6 151.2 h2 M456.8 151.2 h-2" stroke="#262626" stroke-width="0.8"/>
<text x="460.9" y="155.6" class="t t2">0.02</text>
<path d="M432.6 117.1 h2 M456.8 117.1 h-2" stroke="#262626" stroke-width="0.8"/>
<text x="460.9" y="121.5" class="t t2">0.04</text>
<path d="M432.6 83.0 h2 M456.8 83.0 h-2" stroke="#262626" stroke-width="0.8"/>
<text x="460.9" y="87.4" class="t t2">0.06</text>
<path d="M432.6 48.9 h2 M456.8 48.9 h-2" stroke="#262626" stroke-width="0.8"/>
<text x="460.9" y="53.3" class="t t2">0.08</text>
<text x="460.9" y="19.2" class="t t2">0.10</text>
<rect x="498.7" y="12.6" width="18.9" height="171.4" fill="#fff" stroke="#262626" stroke-width="0.9"/>
<text x="521.8" y="17.4" class="t t2">1000</text>
<path d="M498.7 46.9 h2 M517.6 46.9 h-2" stroke="#262626" stroke-width="0.8"/>
<path d="M505.6 46.9 h5.6" stroke="#dcdcdc" stroke-width="0.8"/>
<text x="521.8" y="51.7" class="t t2">800</text>
<path d="M498.7 81.2 h2 M517.6 81.2 h-2" stroke="#262626" stroke-width="0.8"/>
<path d="M505.6 81.2 h5.6" stroke="#dcdcdc" stroke-width="0.8"/>
<text x="521.8" y="86.0" class="t t2">600</text>
<path d="M498.7 115.5 h2 M517.6 115.5 h-2" stroke="#262626" stroke-width="0.8"/>
<path d="M505.6 115.5 h5.6" stroke="#dcdcdc" stroke-width="0.8"/>
<text x="521.8" y="120.3" class="t t2">400</text>
<path d="M498.7 149.9 h2 M517.6 149.9 h-2" stroke="#262626" stroke-width="0.8"/>
<path d="M505.6 149.9 h5.6" stroke="#dcdcdc" stroke-width="0.8"/>
<text x="521.8" y="154.7" class="t t2">200</text>
<text x="521.8" y="188.5" class="t t2">1</text>
<circle cx="508.2" cy="29.8" r="4.4" fill="#4d4d4d"/>
<clipPath id="cl70"><rect x="500" y="60.9" width="20" height="12"/></clipPath>
<circle cx="508.2" cy="64.1" r="3.9" fill="#4d4d4d" clip-path="url(#cl70)"/>
<circle cx="508.2" cy="98.4" r="3.5" fill="#4d4d4d"/>
<circle cx="508.2" cy="132.7" r="3.0" fill="#4d4d4d"/>
<circle cx="508.2" cy="167.0" r="2.2" fill="#4d4d4d"/>
</g>
<g transform="translate(0,197.8)">
<rect x="432.6" y="13.2" width="24.2" height="170.2" fill="url(#grad1)" stroke="#262626" stroke-width="0.7"/>
<text x="460.9" y="186.9" class="t t2">0</text>
<path d="M432.6 151.2 h2 M456.8 151.2 h-2" stroke="#262626" stroke-width="0.8"/>
<text x="460.9" y="155.6" class="t t2">0.2</text>
<path d="M432.6 117.1 h2 M456.8 117.1 h-2" stroke="#262626" stroke-width="0.8"/>
<text x="460.9" y="121.5" class="t t2">0.4</text>
<path d="M432.6 83.0 h2 M456.8 83.0 h-2" stroke="#262626" stroke-width="0.8"/>
<text x="460.9" y="87.4" class="t t2">0.6</text>
<path d="M432.6 48.9 h2 M456.8 48.9 h-2" stroke="#262626" stroke-width="0.8"/>
<text x="460.9" y="53.3" class="t t2">0.8</text>
<text x="460.9" y="19.2" class="t t2">1.0</text>
<rect x="498.7" y="12.6" width="18.9" height="171.4" fill="#fff" stroke="#262626" stroke-width="0.9"/>
<text x="521.8" y="17.4" class="t t2">1000</text>
<path d="M498.7 46.9 h2 M517.6 46.9 h-2" stroke="#262626" stroke-width="0.8"/>
<path d="M505.6 46.9 h5.6" stroke="#dcdcdc" stroke-width="0.8"/>
<text x="521.8" y="51.7" class="t t2">800</text>
<path d="M498.7 81.2 h2 M517.6 81.2 h-2" stroke="#262626" stroke-width="0.8"/>
<path d="M505.6 81.2 h5.6" stroke="#dcdcdc" stroke-width="0.8"/>
<text x="521.8" y="86.0" class="t t2">600</text>
<path d="M498.7 115.5 h2 M517.6 115.5 h-2" stroke="#262626" stroke-width="0.8"/>
<path d="M505.6 115.5 h5.6" stroke="#dcdcdc" stroke-width="0.8"/>
<text x="521.8" y="120.3" class="t t2">400</text>
<path d="M498.7 149.9 h2 M517.6 149.9 h-2" stroke="#262626" stroke-width="0.8"/>
<path d="M505.6 149.9 h5.6" stroke="#dcdcdc" stroke-width="0.8"/>
<text x="521.8" y="154.7" class="t t2">200</text>
<text x="521.8" y="188.5" class="t t2">1</text>
<circle cx="508.2" cy="29.8" r="4.4" fill="#4d4d4d"/>
<clipPath id="cl71"><rect x="500" y="60.9" width="20" height="12"/></clipPath>
<circle cx="508.2" cy="64.1" r="3.9" fill="#4d4d4d" clip-path="url(#cl71)"/>
<circle cx="508.2" cy="98.4" r="3.5" fill="#4d4d4d"/>
<circle cx="508.2" cy="132.7" r="3.0" fill="#4d4d4d"/>
<circle cx="508.2" cy="167.0" r="2.2" fill="#4d4d4d"/>
</g>
</svg>
</body></html>
